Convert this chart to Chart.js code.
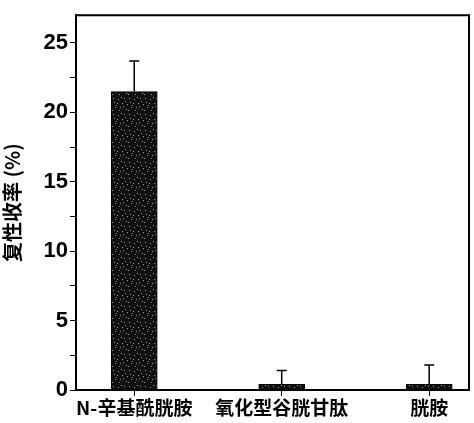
<!DOCTYPE html><html><head><meta charset="utf-8">
<script src="https://cdn.jsdelivr.net/npm/chart.js@4"></script>
<style>body{margin:0;background:#fff}#w{width:474px;height:423px}</style></head><body><div id="w"><canvas id="c"></canvas></div>
<script>
const categories=["N-辛基酰胱胺","氧化型谷胱甘肽","胱胺"];
const positions=[1,2,3];
const values=[21.5,0.4,0.4];
const errors=[2.2,1.0,1.4];
const yTicks=[0,5,10,15,20,25];

function makePattern(){
  const p=document.createElement('canvas');p.width=16;p.height=16;
  const g=p.getContext('2d');g.fillStyle='#111';g.fillRect(0,0,16,16);
  g.fillStyle='#9a9a9a';
  const pts=[[1,2],[5,7],[9,1],[13,5],[3,11],[7,14],[11,10],[14,13],[6,3],[2,6],[12,2],[10,7],[4,9],[8,11],[15,8],[0,14]];
  pts.forEach(([x,y])=>g.fillRect(x,y,1,1));
  return g.createPattern(p,'repeat');
}
const errPlugin={id:'err',afterDatasetsDraw(ch){
  const c=ch.ctx,xs=ch.scales.x,ys=ch.scales.y;c.save();c.strokeStyle='#000';c.lineWidth=1.5;
  values.forEach((v,i)=>{const x=xs.getPixelForValue(positions[i]);const y0=ys.getPixelForValue(v),y1=ys.getPixelForValue(v+errors[i]);
    c.beginPath();c.moveTo(x,y0);c.lineTo(x,y1);c.moveTo(x-5,y1);c.lineTo(x+5,y1);c.stroke();});
  c.restore();}};
new Chart(document.getElementById('c'),{type:'bar',
 data:{datasets:[{data:values.map((v,i)=>({x:positions[i],y:v})),backgroundColor:makePattern(),borderColor:'#000',borderWidth:1,barThickness:46}]},
 options:{responsive:true,maintainAspectRatio:false,animation:false,
  layout:{padding:{top:-11,right:5,left:0,bottom:0}},
  plugins:{legend:{display:false},tooltip:{enabled:false}},
  scales:{
   x:{type:'linear',offset:false,min:0.605,max:3.27,afterBuildTicks(a){a.ticks=positions.map(v=>({value:v}));},
     afterFit(a){a.height=33;},
     grid:{display:true,drawOnChartArea:false,drawTicks:true,tickLength:6,color:'#000',offset:false},border:{color:'#000',width:2},
     ticks:{color:'#000',font:{family:'Noto Sans CJK SC',size:19,weight:'bold'},padding:0,maxRotation:0,autoSkip:false,callback:(v)=>categories[positions.indexOf(v)]??''}},
   y:{min:0,max:27,afterBuildTicks(a){a.ticks=[];for(let v=0;v<=25;v+=2.5)a.ticks.push({value:v});},
     afterFit(a){a.width=76;},
     grid:{display:true,drawOnChartArea:false,drawTicks:true,tickLength:6,color:'#000'},border:{color:'#000',width:2},
     title:{display:true,text:'复性收率 (%)',color:'#000',font:{family:'Noto Sans CJK SC',size:20,weight:'bold'},padding:0},
     ticks:{color:'#000',font:{family:'Liberation Sans',size:22,weight:'bold'},padding:2,callback:(v)=>yTicks.includes(v)?String(v):''}}
  }},
 plugins:[errPlugin,{id:'frame',afterDraw(ch){const a=ch.chartArea,c=ch.ctx;c.save();c.strokeStyle='#000';c.lineWidth=2;c.beginPath();c.moveTo(a.left,a.top);c.lineTo(a.right,a.top);c.lineTo(a.right,a.bottom);c.stroke();c.restore();}}]
});
</script></body></html>
